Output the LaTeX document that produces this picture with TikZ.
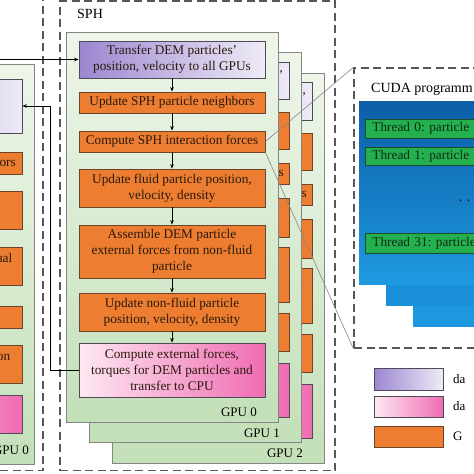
\documentclass[tikz,border=0pt]{standalone}
\usepackage{fontspec}
\setmainfont{Liberation Serif}
\usetikzlibrary{arrows.meta}
\frenchspacing
\definecolor{orng}{HTML}{ED7D31}
\definecolor{orngb}{HTML}{6E4428}
\definecolor{txt}{HTML}{2A1A0C}
\definecolor{lavL}{HTML}{9C86D0}
\definecolor{lavR}{HTML}{EEEBF7}
\definecolor{pinkL}{HTML}{FDE8F2}
\definecolor{pinkR}{HTML}{F06CB2}
\definecolor{grnT}{HTML}{EEF6EA}
\definecolor{grnB}{HTML}{C3E0B8}
\definecolor{panelb}{HTML}{858585}
\definecolor{dashc}{HTML}{575757}
\definecolor{blueT}{HTML}{0C5EA7}
\definecolor{blueB}{HTML}{1E9AE0}
\definecolor{blueM}{HTML}{1A90D8}
\definecolor{blueN}{HTML}{1D97DD}
\definecolor{thr}{HTML}{25B04F}
\definecolor{thrb}{HTML}{1C4A2A}
\definecolor{thrt}{HTML}{0D2A14}
\definecolor{zoomc}{HTML}{858585}
\definecolor{boxb}{HTML}{4F4A58}
\definecolor{dotc}{HTML}{0A1A40}
\tikzset{
  box/.style={draw=orngb, line width=0.8pt, inner sep=0pt, minimum width=186pt,
    align=center, font=\fontsize{13.3}{16}\selectfont, text=txt},
  orbox/.style={box, fill=orng},
  lavbox/.style={box, draw=boxb, left color=lavL, right color=lavR},
  pkbox/.style={box, draw=boxb, left color=pinkL, right color=pinkR},
  boxtxt/.style={inner sep=0pt, font=\fontsize{13.3}{16}\selectfont, text=txt},
  panel/.style={draw=panelb, line width=0.8pt, top color=grnT, bottom color=grnB,
    inner sep=0pt, minimum width=212pt},
  grp/.style={draw=dashc, line width=1.3pt, dash pattern=on 8pt off 4.5pt, inner sep=0pt},
  flow/.style={-{Stealth[length=4.5pt,width=3.6pt]}, line width=0.8pt, black},
  lbl/.style={font=\fontsize{13}{15}\selectfont, text=black, inner sep=0pt},
  zoomline/.style={draw=zoomc, line width=0.6pt},
  thread/.style={draw=thrb, fill=thr, line width=0.8pt, inner xsep=7pt, inner ysep=0pt,
    text width=200pt, align=left, text=thrt, font=\fontsize{13.3}{15}\selectfont},
  legbox/.style={line width=0.8pt, inner sep=0pt, minimum width=69pt},
}
\begin{document}
\begin{tikzpicture}[x=1pt,y=-1pt]
\useasboundingbox (0,0) rectangle (474,474);
\clip (0,0) rectangle (474,474);
\fill[white] (0,0) rectangle (474,474);

% ---------------- DEM side (cut off on the left)
\node[grp, minimum width=93pt, minimum height=490.5pt] (dem) at (-3.5,225.25) {};
\node[panel, minimum height=400pt] (dpan) at (-72,264) {};
\node[lavbox, minimum height=54pt] (dlav) at (-71,106) {};
\node[orbox, minimum height=22pt] (d2) at (-71,163) {};
\node[orbox, minimum height=38pt] (d3) at (-71,210) {};
\node[orbox, minimum height=38pt] (d4) at (-71,266) {};
\node[orbox, minimum height=22pt] (d5) at (-71,317) {};
\node[orbox, minimum height=38pt] (d6) at (-71,364) {};
\node[pkbox, minimum height=38pt] (d7) at (-71,414) {};
\node[boxtxt, anchor=east] (d2t) at (16,163) {ors};
\node[boxtxt, anchor=east] (d4t) at (12.5,258) {ual};
\node[boxtxt, anchor=east] (d6t) at (10.5,357) {on};
\node[lbl, anchor=east] (dgpu) at (29,450) {GPU 0};

% ---------------- SPH group
\node[grp, minimum width=275pt, minimum height=469.5pt] (sph) at (197.5,235.75) {};
\node[lbl, font=\fontsize{14}{16}\selectfont, anchor=west] (sphl) at (77,14) {SPH};

% GPU 2
\node[panel, minimum height=390pt] (p2) at (218,268) {};
\node[lavbox, minimum height=38pt] (c1) at (219,101.5) {};
\node[orbox, minimum height=37pt] (c2) at (219,151.5) {};
\node[orbox, minimum height=21pt] (c3) at (219,194.5) {};
\node[orbox, minimum height=39pt] (c4) at (219,238.5) {};
\node[orbox, minimum height=55pt] (c5) at (219,295.5) {};
\node[orbox, minimum height=38pt] (c6) at (219,353) {};
\node[pkbox, minimum height=54pt] (c7) at (219,411) {};
\node[boxtxt, anchor=east] (c3t) at (307,194.5) {s};
\node[boxtxt, anchor=north west] (c1t) at (301.6,92) {’};
\node[lbl, anchor=east] (g2) at (303,453) {GPU 2};

% GPU 1
\node[panel, minimum height=390pt] (p1) at (195,247.5) {};
\node[lavbox, minimum height=37pt] (b1) at (196,80.5) {};
\node[orbox, minimum height=37pt] (b2) at (196,130.5) {};
\node[orbox, minimum height=21pt] (b3) at (196,173.5) {};
\node[orbox, minimum height=39pt] (b4) at (196,217.5) {};
\node[orbox, minimum height=55pt] (b5) at (196,274.5) {};
\node[orbox, minimum height=38pt] (b6) at (196,332) {};
\node[pkbox, minimum height=54pt] (b7) at (196,390) {};
\node[boxtxt, anchor=east] (b3t) at (284,173.5) {s};
\node[boxtxt, anchor=north west] (b1t) at (278.6,70) {’};
\node[lbl, anchor=east] (g1) at (280,433) {GPU 1};

% GPU 0
\node[panel, minimum height=390pt] (p0) at (172,227) {};
\node[lavbox, minimum height=37pt] (transfer) at (172,59.5) {Transfer DEM particles’\\position, velocity to all GPUs};
\node[orbox, minimum height=21pt] (nbr) at (172,102.5) {Update SPH particle neighbors};
\node[orbox, minimum height=21pt] (force) at (172,141.5) {Compute SPH interaction forces};
\node[orbox, minimum height=38pt] (fluid) at (172,188) {Update fluid particle position,\\velocity, density};
\node[orbox, minimum height=53pt] (assem) at (172,251.5) {Assemble DEM particle\\external forces from non-fluid\\particle};
\node[orbox, minimum height=38pt] (nonfl) at (172,312) {Update non-fluid particle\\position, velocity, density};
\node[pkbox, minimum height=54pt] (ext) at (172,370) {Compute external forces,\\torques for DEM particles and\\transfer to CPU};
\node[lbl, anchor=east] (g0) at (257,412) {GPU 0};

\draw[flow] (transfer) -- (nbr);
\draw[flow] (nbr) -- (force);
\draw[flow] (force) -- (fluid);
\draw[flow] (fluid) -- (assem);
\draw[flow] (assem) -- (nonfl);
\draw[flow] (nonfl) -- (ext);

% connections between DEM and SPH
\coordinate (inL) at (-5,59.5);
\draw[flow] (inL) -- (transfer.west);
\coordinate (ret) at (50,370);
\draw[flow] (ext.west) -- (ret) |- (dlav.east);

% ---------------- CUDA programming box
\node[grp, minimum width=186pt, minimum height=280pt] (cuda) at (447,208) {};
\node[lbl, font=\fontsize{14}{16}\selectfont, anchor=west] (cudal) at (371,89) {CUDA programm};
\fill[blueN] (413,144) rectangle (560,327);
\fill[blueM] (386,123) rectangle (560,306);
\shade[top color=blueT, bottom color=blueB] (359,101) rectangle (560,284);
\node[thread, anchor=west, minimum height=19pt] (t0) at (365,128.5) {Thread 0: particle 0};
\node[thread, anchor=west, minimum height=18pt] (t1) at (365,156) {Thread 1: particle 1};
\node[thread, anchor=west, minimum height=20pt] (t31) at (365,243) {Thread 31: particle 31};
\node[inner sep=0pt, font=\fontsize{16}{16}\selectfont, text=dotc, anchor=west] (dots) at (458.5,201) {. . .};

% zoom lines
\draw[zoomline] (force.east) -- (cuda.north west);
\draw[zoomline] (force.south east) -- (cuda.south west);

% ---------------- legend
\node[legbox, draw=boxb, left color=lavL, right color=lavR, minimum height=22pt] (lg1) at (408.5,379) {};
\node[legbox, draw=boxb, left color=pinkL, right color=pinkR, minimum height=21pt] (lg2) at (408.5,406.5) {};
\node[legbox, draw=orngb, fill=orng, minimum height=21pt] (lg3) at (408.5,436.5) {};
\node[lbl, anchor=west] (lt1) at (453,379) {da};
\node[lbl, anchor=west] (lt2) at (453,406.5) {da};
\node[lbl, anchor=west] (lt3) at (453,436.5) {G};
\end{tikzpicture}
\end{document}
